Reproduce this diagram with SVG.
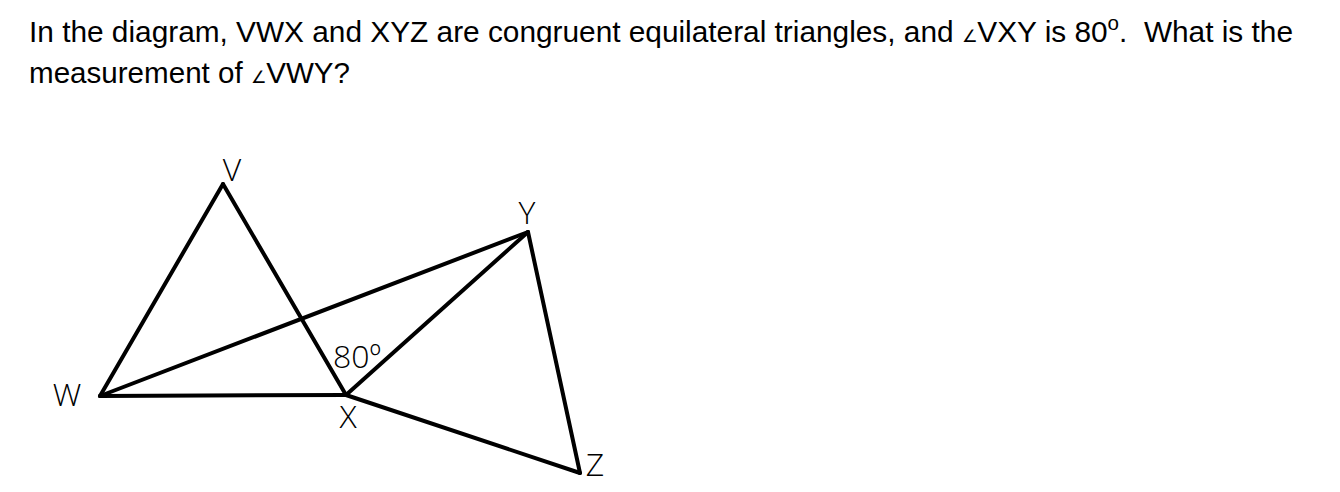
<svg xmlns="http://www.w3.org/2000/svg" width="1340" height="492" viewBox="0 0 1340 492">
<style>
.q{font-family:"Liberation Sans",Arial,sans-serif;font-size:29px;fill:#000}
.ang{font-size:17px}
.lb{font-family:"Open Sans","DejaVu Sans",sans-serif;font-weight:300;font-size:32px;fill:#000}
.e{stroke:#000;stroke-width:4;stroke-linecap:round;stroke-linejoin:round;fill:none}
</style>
<rect width="1340" height="492" fill="#fff"/>
<text class="q" x="29" y="42" xml:space="preserve" textLength="1264" lengthAdjust="spacingAndGlyphs">In the diagram, VWX and XYZ are congruent equilateral triangles, and <tspan class="ang">∠</tspan>VXY is 80<tspan dy="-12" font-size="20">o</tspan><tspan dy="12">.  What is the</tspan></text>
<text class="q" x="29" y="83" textLength="321" lengthAdjust="spacingAndGlyphs">measurement of <tspan class="ang">∠</tspan>VWY?</text>
<g id="connectors">
<line class="e" x1="100" y1="396" x2="223" y2="184"/>
<line class="e" x1="223" y1="184" x2="346" y2="395"/>
<line class="e" x1="100" y1="396" x2="346" y2="395"/>
<line class="e" x1="346" y1="395" x2="528" y2="232"/>
<line class="e" x1="528" y1="232" x2="580" y2="473"/>
<line class="e" x1="346" y1="395" x2="580" y2="473"/>
<line class="e" x1="100" y1="396" x2="528" y2="232"/>
</g>
<g id="V"><text class="lb" x="232" y="181" text-anchor="middle">V</text></g>
<g id="W"><text class="lb" x="67" y="406" text-anchor="middle">W</text></g>
<g id="X"><text class="lb" x="348" y="428" text-anchor="middle">X</text></g>
<g id="Y"><text class="lb" x="527" y="224" text-anchor="middle">Y</text></g>
<g id="Z"><text class="lb" x="595" y="476" text-anchor="middle">Z</text></g>
<g id="angle"><text class="lb" x="333" y="368">80º</text></g>
</svg>
